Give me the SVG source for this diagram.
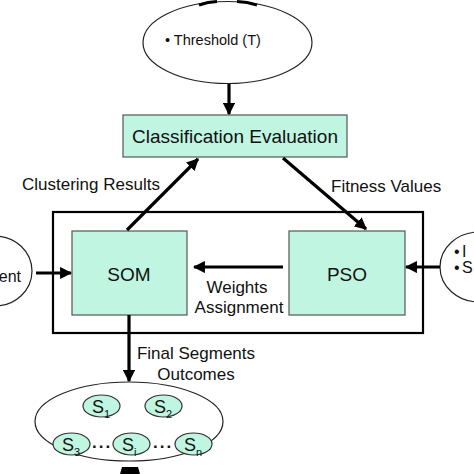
<svg xmlns="http://www.w3.org/2000/svg" width="474" height="474" viewBox="0 0 474 474">
<style>
text{font-family:"Liberation Sans",Arial,sans-serif;fill:#111}
.box{fill:#c0f5e2;stroke:#555;stroke-width:1.2}
.ell{fill:#fff;stroke:#222;stroke-width:1.2}
.sm{fill:#c0f5e2;stroke:#333;stroke-width:1.2}
.conn{stroke:#000;stroke-width:3.2;fill:none}
.lbl{font-size:17px}
.st{font-size:18px}
.sub{font-size:11px}
</style>
<defs>
<marker id="ah" viewBox="0 0 10 10" refX="9" refY="5" markerWidth="3.8" markerHeight="3.8" orient="auto" markerUnits="strokeWidth">
<path d="M0,0 L10,5 L0,10 z" fill="#000"/>
</marker>
</defs>
<rect width="474" height="474" fill="#fff"/>

<g id="threshold">
<ellipse class="ell" cx="227.5" cy="42.5" rx="84.5" ry="41"/>
<path d="M199,5 Q208,2 217,1.6 M237,1.6 Q247,2 257,5" stroke="#000" stroke-width="3" fill="none"/>
<text x="165" y="45" font-size="14.5px">•  Threshold (T)</text>
</g>

<g id="classification">
<rect class="box" x="123" y="115" width="224" height="42"/>
<text x="235" y="143" font-size="19px" text-anchor="middle">Classification Evaluation</text>
</g>

<g id="container">
<rect x="53" y="212" width="370" height="121" fill="none" stroke="#000" stroke-width="2.2"/>
</g>

<g id="som">
<rect class="box" x="72" y="231" width="115" height="84"/>
<text x="129" y="281" font-size="19px" text-anchor="middle">SOM</text>
</g>

<g id="pso">
<rect class="box" x="289" y="231" width="116" height="84"/>
<text x="347" y="281" font-size="19px" text-anchor="middle">PSO</text>
</g>

<g id="left-input">
<ellipse class="ell" cx="-5" cy="271" rx="37" ry="35"/>
<text x="21" y="282" font-size="16px" text-anchor="end">ent</text>
</g>

<g id="right-input">
<ellipse class="ell" cx="479" cy="267" rx="39" ry="35"/>
<text x="454" y="257" font-size="16px">•</text>
<text x="462" y="257" font-size="16px">I</text>
<text x="454" y="273" font-size="16px">•</text>
<text x="462" y="273" font-size="16px">S</text>
</g>

<g id="segments">
<ellipse class="ell" cx="129" cy="421.5" rx="94" ry="39.5"/>
<ellipse class="sm" cx="101.5" cy="406" rx="18.5" ry="11"/>
<text x="92" y="413" class="st">S</text><text x="104" y="418" class="sub">1</text>
<ellipse class="sm" cx="163.5" cy="406" rx="18.5" ry="11"/>
<text x="154" y="413" class="st">S</text><text x="166" y="418" class="sub">2</text>
<ellipse class="sm" cx="71.5" cy="444" rx="18.5" ry="11"/>
<text x="62" y="451" class="st">S</text><text x="74" y="456" class="sub">3</text>
<ellipse class="sm" cx="131.5" cy="444" rx="18.5" ry="11"/>
<text x="122" y="451" class="st">S</text><text x="134" y="456" class="sub">i</text>
<ellipse class="sm" cx="193.5" cy="444" rx="18.5" ry="11"/>
<text x="184" y="451" class="st">S</text><text x="196" y="456" class="sub">n</text>
<text x="92" y="448" font-size="17px" font-weight="bold" letter-spacing="2">...</text>
<text x="153" y="448" font-size="17px" font-weight="bold" letter-spacing="2">...</text>
<path d="M120,474 L122,467 L138,467 L140,474 z" fill="#000"/>
</g>

<g id="connectors">
<line class="conn" x1="229" y1="84" x2="229" y2="114" marker-end="url(#ah)"/>
<line class="conn" x1="127" y1="230" x2="198" y2="159" marker-end="url(#ah)"/>
<line class="conn" x1="283" y1="158" x2="366" y2="229" marker-end="url(#ah)"/>
<line class="conn" x1="283" y1="267" x2="194" y2="267" marker-end="url(#ah)"/>
<line class="conn" x1="36" y1="273" x2="71" y2="273" marker-end="url(#ah)"/>
<line class="conn" x1="440" y1="267" x2="406" y2="267" marker-end="url(#ah)"/>
<line class="conn" x1="129" y1="315" x2="129" y2="381" marker-end="url(#ah)"/>
</g>

<g id="labels">
<text x="22" y="190" class="lbl">Clustering Results</text>
<text x="331" y="192" class="lbl">Fitness Values</text>
<text x="237" y="293" class="lbl" text-anchor="middle">Weights</text>
<text x="239" y="313" class="lbl" text-anchor="middle">Assignment</text>
<text x="196" y="359" class="lbl" text-anchor="middle">Final Segments</text>
<text x="196" y="380" class="lbl" text-anchor="middle">Outcomes</text>
</g>
</svg>
